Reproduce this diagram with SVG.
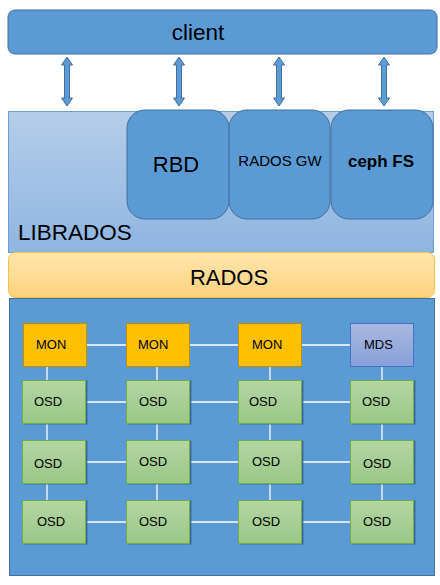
<svg xmlns="http://www.w3.org/2000/svg" width="440" height="585" viewBox="0 0 440 585">
<defs>
<linearGradient id="gLib" x1="0" y1="0" x2="0" y2="1"><stop offset="0" stop-color="#b5cde9"/><stop offset="1" stop-color="#8fb5e2"/></linearGradient>
<linearGradient id="gRados" x1="0" y1="0" x2="0" y2="1"><stop offset="0" stop-color="#ffe6ad"/><stop offset="1" stop-color="#fed27e"/></linearGradient>
<linearGradient id="gOsd" x1="0" y1="0" x2="0" y2="1"><stop offset="0" stop-color="#b4d5a5"/><stop offset="1" stop-color="#9ac886"/></linearGradient>
<linearGradient id="gMds" x1="0" y1="0" x2="0" y2="1"><stop offset="0" stop-color="#a9b8e2"/><stop offset="1" stop-color="#87a0d8"/></linearGradient>
<filter id="sh" x="-10%" y="-10%" width="130%" height="130%"><feDropShadow dx="1.5" dy="0.5" stdDeviation="0.4" flood-color="#2f5f8a" flood-opacity="0.8"/></filter>
</defs>
<style>
text{font-family:"Liberation Sans",Arial,sans-serif;fill:#000}
.blue{fill:#5b9bd5;stroke:#41719c;stroke-width:1}
.arrow{fill:#5b9bd5;stroke:#41719c;stroke-width:1}
.mon{fill:#ffc000;stroke:#c09000;stroke-width:1}
.osd{fill:url(#gOsd);stroke:#70ad47;stroke-width:1;filter:url(#sh)}
.mds{fill:url(#gMds);stroke:#4472c4;stroke-width:1}
.lbl{font-size:13px}
.link{stroke:#ffffff;stroke-width:1.3;fill:none}
</style>

<g id="client"><rect class="blue" x="8" y="10" width="429" height="44" rx="7"/><text x="198" y="40" font-size="22.5" text-anchor="middle">client</text></g>

<g id="arrows">
<path class="arrow" d="M67,57 L72.5,65 L69.5,65 L69.5,98 L72.5,98 L67,106 L61.5,98 L64.5,98 L64.5,65 L61.5,65 Z"/>
<path class="arrow" d="M179,57 L184.5,65 L181.5,65 L181.5,98 L184.5,98 L179,106 L173.5,98 L176.5,98 L176.5,65 L173.5,65 Z"/>
<path class="arrow" d="M279,57 L284.5,65 L281.5,65 L281.5,98 L284.5,98 L279,106 L273.5,98 L276.5,98 L276.5,65 L273.5,65 Z"/>
<path class="arrow" d="M384,57 L389.5,65 L386.5,65 L386.5,98 L389.5,98 L384,106 L378.5,98 L381.5,98 L381.5,65 L378.5,65 Z"/>
</g>

<g id="librados"><rect x="8.5" y="111.5" width="425" height="141" fill="url(#gLib)" stroke="#6a9fd6" stroke-width="1"/><text x="18" y="240" font-size="22.5">LIBRADOS</text></g>
<g id="rbd"><rect class="blue" x="127" y="110" width="102" height="109" rx="18"/><text x="176" y="172" font-size="22" text-anchor="middle">RBD</text></g>
<g id="radosgw"><rect class="blue" x="229" y="110" width="101" height="109" rx="18"/><text x="280" y="166" font-size="15" text-anchor="middle">RADOS GW</text></g>
<g id="cephfs"><rect class="blue" x="331" y="110" width="102" height="109" rx="18"/><text x="381" y="167" font-size="17" font-weight="bold" text-anchor="middle">ceph FS</text></g>

<g id="rados"><rect x="8.5" y="252.5" width="426" height="45" rx="7" fill="url(#gRados)" stroke="#f5c242" stroke-width="1"/><text x="229" y="285" font-size="22" text-anchor="middle">RADOS</text></g>

<g id="cluster"><rect x="9.5" y="298.5" width="425" height="277" fill="#5b9bd5" stroke="#41719c" stroke-width="1"/></g>

<g id="connectors">
<line class="link" x1="86" y1="345" x2="350" y2="345"/>
<line class="link" x1="86" y1="402" x2="350" y2="402"/>
<line class="link" x1="86" y1="462" x2="350" y2="462"/>
<line class="link" x1="86" y1="522" x2="350" y2="522"/>
<line class="link" x1="47" y1="367" x2="47" y2="500"/>
<line class="link" x1="157" y1="367" x2="157" y2="500"/>
<line class="link" x1="270" y1="367" x2="270" y2="500"/>
<line class="link" x1="382" y1="367" x2="382" y2="500"/>
</g>

<g id="mon1"><rect class="mon" x="23.5" y="323.5" width="63" height="43"/><text class="lbl" x="36" y="349">MON</text></g>
<g id="mon2"><rect class="mon" x="126.5" y="323.5" width="63" height="43"/><text class="lbl" x="138" y="349">MON</text></g>
<g id="mon3"><rect class="mon" x="238.5" y="323.5" width="63" height="43"/><text class="lbl" x="252" y="349">MON</text></g>
<g id="mds"><rect class="mds" x="350.5" y="323.5" width="63" height="43"/><text class="lbl" x="364" y="349">MDS</text></g>

<g id="osd11"><rect class="osd" x="22.5" y="380.5" width="63" height="43"/><text class="lbl" x="34" y="406">OSD</text></g>
<g id="osd12"><rect class="osd" x="126.5" y="380.5" width="63" height="43"/><text class="lbl" x="139" y="406">OSD</text></g>
<g id="osd13"><rect class="osd" x="238.5" y="380.5" width="63" height="43"/><text class="lbl" x="249" y="406">OSD</text></g>
<g id="osd14"><rect class="osd" x="350.5" y="380.5" width="63" height="43"/><text class="lbl" x="362" y="406">OSD</text></g>

<g id="osd21"><rect class="osd" x="22.5" y="440.5" width="63" height="43"/><text class="lbl" x="34" y="468">OSD</text></g>
<g id="osd22"><rect class="osd" x="126.5" y="440.5" width="63" height="43"/><text class="lbl" x="139" y="466">OSD</text></g>
<g id="osd23"><rect class="osd" x="238.5" y="440.5" width="63" height="43"/><text class="lbl" x="252" y="466">OSD</text></g>
<g id="osd24"><rect class="osd" x="350.5" y="440.5" width="63" height="43"/><text class="lbl" x="363" y="468">OSD</text></g>

<g id="osd31"><rect class="osd" x="22.5" y="500.5" width="63" height="43"/><text class="lbl" x="37" y="526">OSD</text></g>
<g id="osd32"><rect class="osd" x="126.5" y="500.5" width="63" height="43"/><text class="lbl" x="139" y="526">OSD</text></g>
<g id="osd33"><rect class="osd" x="238.5" y="500.5" width="63" height="43"/><text class="lbl" x="252" y="526">OSD</text></g>
<g id="osd34"><rect class="osd" x="350.5" y="500.5" width="63" height="43"/><text class="lbl" x="363" y="526">OSD</text></g>
</svg>
